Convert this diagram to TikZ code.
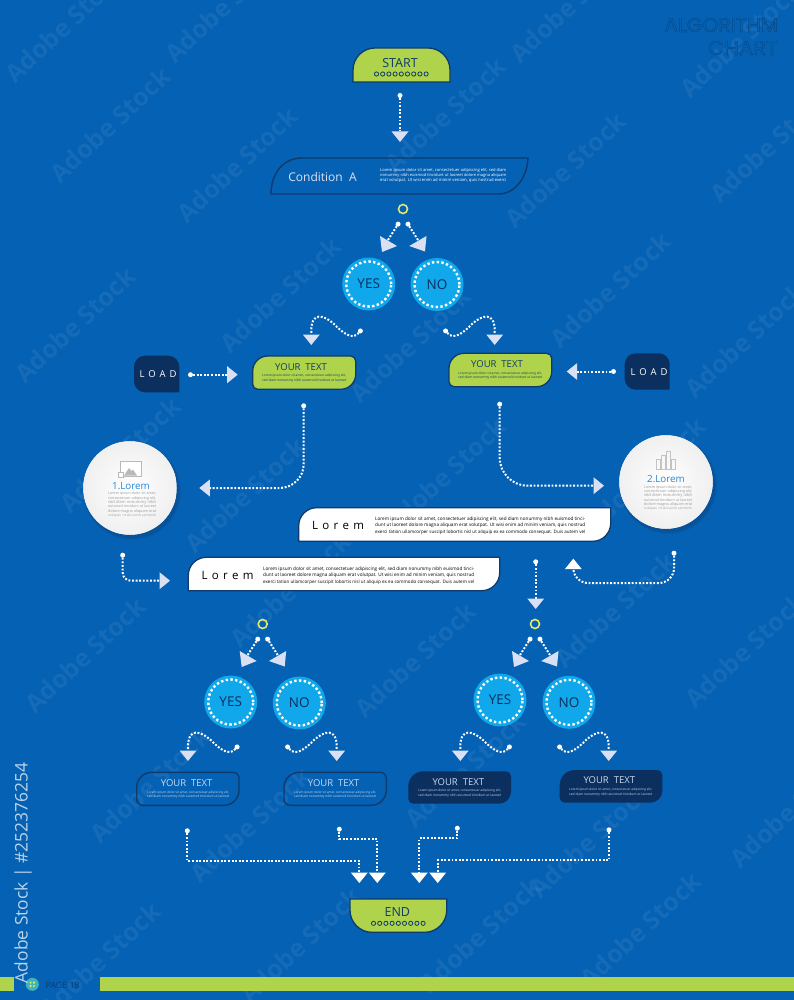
\documentclass[tikz,border=0pt]{standalone}
\usepackage{fontspec}
\usepackage{graphicx}
\setmainfont{Open Sans}
\newfontfamily\titlefont{Poppins}
\usetikzlibrary{arrows.meta,calc}
\definecolor{bgblue}{HTML}{0561B3}
\definecolor{leaf}{HTML}{AFD34A}
\definecolor{navy}{HTML}{0F3A6C}
\definecolor{deep}{HTML}{0B2F5F}
\definecolor{sky}{HTML}{10A7EB}
\definecolor{lav}{HTML}{D9E0F3}
\definecolor{ringy}{HTML}{E4E66E}
\definecolor{pale}{HTML}{C9DAF0}
\definecolor{lblue}{HTML}{2487D8}
\definecolor{gtext}{HTML}{9B9B9B}
\tikzset{
  x=1pt,y=-1pt,
  dots/.style={white,line width=2pt,dash pattern=on 1.9pt off 1.7pt},
  lavconn/.style={dots,{Circle[length=5pt,color=white,line width=0pt]}-{Triangle[length=10.5pt,width=17pt,color=lav,fill=lav,line width=0pt]}},
  whiteconn/.style={dots,{Circle[length=5pt,color=white,line width=0pt]}-{Triangle[length=10.5pt,width=17pt,color=white,fill=white,line width=0pt]}},
  stub/.style={dots,{Circle[length=5pt,color=white,line width=0pt]}-},
  greenbox/.style={fill=leaf,draw=navy,line width=1.3pt},
  hollowbox/.style={draw=navy,line width=1.4pt},
  darkbox/.style={fill=deep},
  whitebox/.style={fill=white,draw=navy,line width=1.3pt},
  lbl/.style={inner sep=0pt,font=\fontsize{10}{12}\selectfont},
  tiny/.style={inner sep=0pt,anchor=west,align=left},
  ringnode/.style={circle,draw=ringy,line width=1.6pt,minimum size=9pt,inner sep=0pt},
  choicenode/.style={circle,fill=sky,minimum size=53pt,inner sep=0pt,text=deep,font=\fontsize{13.5}{15}\selectfont},
  wm/.style={white,opacity=.065,rotate=43,font=\fontsize{25}{27}\selectfont\bfseries},
  whitedisc/.style={circle,minimum size=93.5pt,inner sep=0pt,fill=white!94!black,inner color=white,outer color=white!94!black,shading=radial,shade}
}
\def\rrpath#1#2#3#4#5#6#7#8{({#1+#5},#2) -- ({#3-#6},#2) .. controls ({#3-.45*#6},#2) and (#3,{#2+.45*#6}) .. (#3,{#2+#6}) -- (#3,{#4-#7}) .. controls (#3,{#4-.45*#7}) and ({#3-.45*#7},#4) .. ({#3-#7},#4) -- ({#1+#8},#4) .. controls ({#1+.45*#8},#4) and (#1,{#4-.45*#8}) .. (#1,{#4-#8}) -- (#1,{#2+#5}) .. controls (#1,{#2+.45*#5}) and ({#1+.45*#5},#2) .. ({#1+#5},#2) -- cycle}
\newcommand{\rl}[2]{\resizebox{#1pt}{!}{#2}}
\newcommand{\twolines}[6]{\node[tiny,text=#5,font=\fontsize{1}{4.4}\selectfont] (#1) at (#2,#3) {\rl{#4}{Lorem ipsum dolor sit amet, consectetuer adipiscing elit,}\\\rl{#4}{sed diam nonummy nibh euismod tincidunt ut laoreet}};}
\newcommand{\threelines}[4]{\node[tiny,text=black,font=\fontsize{1}{6.6}\selectfont] (#1) at (#2,#3) {\rl{#4}{Lorem ipsum dolor sit amet, consectetuer adipiscing elit, sed diam nonummy nibh euismod tinci-}\\\rl{#4}{dunt ut laoreet dolore magna aliquam erat volutpat. Ut wisi enim ad minim veniam, quis nostrud}\\\rl{#4}{exerci tation ullamcorper suscipit lobortis nisl ut aliquip ex ea commodo consequat. Duis autem vel}};}
\newcommand{\sixlines}[3]{\node[tiny,text=gtext,font=\fontsize{1}{4.3}\selectfont] (#1) at (#2,#3) {\rl{48}{Lorem ipsum dolor sit amet,}\\\rl{48}{consectetuer adipiscing elit,}\\\rl{48}{sed diam nonummy nibh}\\\rl{48}{euismod tincidunt ut laoreet}\\\rl{48}{dolore magna aliquam erat}\\\rl{48}{volutpat. Ut wisi enim ad minim}};}
\newcommand{\beads}[3]{\foreach \i in {0,...,8} \draw[navy,line width=.8pt] ({#1+\i*6.2},#2) circle (2.1pt);}
\newcommand{\decision}[3]{%
  \node[ringnode] (#1ring) at (#2,#3) {};
  \coordinate (#1ls) at ({#2-3.6},{#3+13});
  \coordinate (#1rs) at ({#2+3.6},{#3+13});
  \coordinate (#1le) at ({#2-15},{#3+31});
  \coordinate (#1re) at ({#2+15},{#3+31});
  \draw[stub] (#1ls) -- (#1le);
  \draw[stub] (#1rs) -- (#1re);
  \fill[lav] ({#2-23},{#3+27}) -- ({#2-6},{#3+37}) -- ({#2-21},{#3+43}) -- cycle;
  \fill[lav] ({#2+23.5},{#3+27}) -- ({#2+6.2},{#3+37}) -- ({#2+22},{#3+42.5}) -- cycle;}
\newcommand{\choice}[4]{\node[choicenode] (#1) at (#2,#3) {#4};
  \draw[white,line width=2.4pt,dash pattern=on 2.4pt off 2.35pt] (#1.center) circle (22.5pt);}
\newcommand{\wave}[4]{\coordinate (#1s) at (#2,#3);
  \coordinate (#1e) at ({#2+#4*50.7},{#3+16});
  \draw[lavconn] (#1s) .. controls ({#2+#4*10},{#3+12}) and ({#2+#4*20},{#3+3}) .. ({#2+#4*28},{#3-5}) .. controls ({#2+#4*38},{#3-14}) and ({#2+#4*50.7},{#3-18}) .. ({#2+#4*50.7},{#3+2}) -- (#1e);}
\begin{document}
\begin{tikzpicture}
\useasboundingbox (0,0) rectangle (794,1000);
\fill[bgblue] (0,0) rectangle (794,1000);
% watermark
\foreach \wx/\wy in {65/25,110/125,237/165,445/115,565/170,770/145,75/325,280/295,410/345,610/290,745/340,120/455,245/495,445/475,645/475,85/655,290/590,415/660,615/610,745/650,150/785,250/825,465/770,590/840,790/810,100/960,300/945,480/935,640/930,225/5,570/5,740/40}
  \node[wm] at (\wx,\wy) {Adobe Stock};

% title
\node[inner sep=0pt,anchor=west,text=bgblue] (titlea) at (664,25) {\resizebox{114pt}{14pt}{\titlefont\fontsize{19}{20}\selectfont\special{pdf:code q 2 Tr 0.16 w 0.05 0.2 0.38 RG 0.02 0.38 0.7 rg}ALGORITHM\special{pdf:code Q}}};
\node[inner sep=0pt,anchor=east,text=bgblue] (titleb) at (778,48) {\resizebox{70pt}{14pt}{\titlefont\fontsize{19}{20}\selectfont\special{pdf:code q 2 Tr 0.16 w 0.05 0.2 0.38 RG 0.02 0.38 0.7 rg}CHART\special{pdf:code Q}}};

% start
\draw[greenbox] \rrpath{353}{48}{450}{82}{22}{22}{0}{0};
\node[lbl,text=navy,font=\fontsize{12.5}{14}\selectfont] (start) at (400,63.5) {START};
\beads{376.5}{74}{}
\coordinate (s1) at (400,93);
\coordinate (t1) at (400,142);
\draw[lavconn] (s1) -- (t1);

% condition A
\draw[hollowbox] (271,194) .. controls (271,175) and (282,158) .. (302,158) -- (528,158) .. controls (527,178) and (515,194) .. (498,194) -- cycle;
\node[lbl,text=lav,font=\fontsize{12}{14}\selectfont] (cond) at (322.5,177) {Condition\ \ A};
\node[tiny,text=white,font=\fontsize{1}{5.4}\selectfont] (condtext) at (380,175.5) {\rl{126}{Lorem ipsum dolor sit amet, consectetuer adipiscing elit, sed diam}\\\rl{126}{nonummy nibh euismod tincidunt ut laoreet dolore magna aliquam}\\\rl{126}{erat volutpat. Ut wisi enim ad minim veniam, quis nostrud exerci}};

% first decision
\decision{da}{403}{209}
\choice{yesa}{368.7}{284}{YES}
\choice{noa}{437}{284.5}{NO}
\wave{wa}{362}{329}{-1}
\wave{wb}{444}{329}{1}

% green boxes
\draw[greenbox] \rrpath{252.7}{356}{355.7}{389.3}{15}{5}{15}{5};
\node[lbl,text=navy,font=\fontsize{9.5}{11}\selectfont] (ya) at (301,366.7) {YOUR\ \ TEXT};
\twolines{yat}{262}{378.2}{84}{navy}{}
\draw[greenbox] \rrpath{449}{353.3}{551.7}{386.7}{15}{5}{15}{5};
\node[lbl,text=navy,font=\fontsize{9.5}{11}\selectfont] (yb) at (497,364) {YOUR\ \ TEXT};
\twolines{ybt}{458}{375.8}{84}{navy}{}

% load boxes
\fill[darkbox] \rrpath{134}{355.7}{179.3}{392.3}{11}{11}{0}{11};
\node[lbl,text=white,font=\fontsize{9.5}{11}\selectfont] (loada) at (158,374) {\makebox[37pt][s]{L O A D}};
\fill[darkbox] \rrpath{624.7}{353.3}{669.7}{389.7}{11}{11}{0}{11};
\node[lbl,text=white,font=\fontsize{9.5}{11}\selectfont] (loadb) at (649,372) {\makebox[37pt][s]{L O A D}};
\coordinate (la1) at (188,374.7);
\coordinate (la2) at (237.7,374.7);
\draw[lavconn] (la1) -- (la2);
\coordinate (lb1) at (616,371.5);
\coordinate (lb2) at (566.7,371.5);
\draw[lavconn] (lb1) -- (lb2);

% routes to circles
\coordinate (ra1) at (303.7,403.3);
\coordinate (ra2) at (199.3,488);
\draw[lavconn,rounded corners=24pt] (ra1) |- (ra2);
\coordinate (rb1) at (499.7,401.7);
\coordinate (rb2) at (604,485.7);
\draw[lavconn,rounded corners=28pt] (rb1) |- (rb2);

% white circles
\foreach \k/\r in {1/49,2/48,3/47.5}{
  \fill[navy,opacity=.12] (132,491) circle (\r pt);
  \fill[navy,opacity=.12] (668,485) circle (\r pt);}
\node[whitedisc] (ca) at (130,488) {};
\node[whitedisc] (cb) at (666,482) {};
% picture icon
\draw[gtext!70,line width=.8pt,fill=white] (120,461.7) rectangle (141,476.7);
\fill[gtext!70] (124,475.5) -- (129,468) -- (131.5,471) -- (133,469.5) -- (137,475.5) -- cycle;
\draw[gtext!70,line width=.8pt,fill=white] (118.5,472.7) rectangle (123.5,477.7);
\node[lbl,text=lblue,font=\fontsize{9.8}{11}\selectfont] (ct) at (131,486.3) {1.Lorem};
\sixlines{cat}{108}{504.7}
% bar icon
\foreach \bx/\bt in {656.3/459,661.3/455,666.3/451,671.3/459}
  \draw[gtext!60,line width=.6pt] (\bx,469.5) rectangle ({\bx+3.7},\bt);
\node[lbl,text=lblue,font=\fontsize{9.8}{11}\selectfont] (cu) at (666,478.7) {2.Lorem};
\sixlines{cbt}{644}{498}

% white lorem boxes
\draw[whitebox] \rrpath{298.7}{507.7}{610.7}{541.3}{18}{0}{18}{0};
\node[lbl,text=black] (loa) at (338,525.7) {\makebox[52pt][s]{\fontsize{11.5}{13}\selectfont L o r e m}};
\threelines{lot}{375}{525.7}{210}
\draw[whitebox] \rrpath{188.3}{557.3}{499.7}{590.7}{18}{0}{18}{0};
\node[lbl,text=black] (lob) at (227.7,575) {\makebox[52pt][s]{\fontsize{11.5}{13}\selectfont L o r e m}};
\threelines{lou}{263}{575.4}{211}

% connectors around lorem boxes
\coordinate (la) at (122.7,552.7);
\coordinate (lc) at (170,580.7);
\draw[lavconn,rounded corners=8pt] (la) |- (lc);
\coordinate (da) at (535.7,559.3);
\coordinate (db) at (535.7,609);
\draw[lavconn] (da) -- (db);
\coordinate (ua) at (674,550.7);
\coordinate (ub) at (573.3,558.7);
\coordinate (ubc) at (573.3,583);
\draw[whiteconn,rounded corners=15pt] (ua) |- (ubc) -- (ub);

% lower decisions
\decision{db}{262.7}{624}
\decision{dc}{535}{624}
\choice{yesb}{230.7}{702}{YES}
\choice{nob}{299.3}{703}{NO}
\choice{yesc}{500}{700}{YES}
\choice{noc}{569}{702.3}{NO}
\wave{wc}{238.7}{745}{-1}
\wave{wd}{286}{745}{1}
\wave{we}{511}{745}{-1}
\wave{wf}{558}{745}{1}

% lower boxes
\draw[hollowbox] \rrpath{136.7}{772.3}{239}{805.3}{15}{6}{15}{6};
\node[lbl,text=pale,font=\fontsize{9.5}{11}\selectfont] (ba) at (186.7,783) {YOUR\ \ TEXT};
\twolines{bat}{147}{794.8}{82}{pale}{}
\draw[hollowbox] \rrpath{284}{772.3}{386.3}{805.3}{15}{6}{15}{6};
\node[lbl,text=pale,font=\fontsize{9.5}{11}\selectfont] (bb) at (333.7,783) {YOUR\ \ TEXT};
\twolines{bbt}{294}{794.8}{82}{pale}{}
\fill[darkbox] \rrpath{408.3}{771.3}{511}{803.7}{15}{5}{12}{5};
\node[lbl,text=pale,font=\fontsize{9.5}{11}\selectfont] (bc) at (458.3,781.7) {YOUR\ \ TEXT};
\twolines{bct}{418}{793.2}{83}{pale}{}
\fill[darkbox] \rrpath{559.7}{770}{662.3}{802.7}{15}{5}{12}{5};
\node[lbl,text=pale,font=\fontsize{9.5}{11}\selectfont] (bd) at (609.3,780.3) {YOUR\ \ TEXT};
\twolines{bdt}{569}{792}{83}{pale}{}

% connectors to end
\coordinate (ea) at (187.3,828.3);
\coordinate (eac) at (359.3,861);
\coordinate (eat) at (359.3,883);
\draw[whiteconn] (ea) |- (eac) -- (eat);
\coordinate (eb) at (339.3,826.7);
\coordinate (ebc) at (377.3,839);
\coordinate (ebt) at (377.3,883);
\draw[whiteconn] (eb) |- (ebc) -- (ebt);
\coordinate (ec) at (457.3,825.7);
\coordinate (ecc) at (419.3,838.3);
\coordinate (ect) at (419.3,883);
\draw[whiteconn] (ec) |- (ecc) -- (ect);
\coordinate (ed) at (609,827.3);
\coordinate (edc) at (437.7,860.3);
\coordinate (edt) at (437.7,883);
\draw[whiteconn] (ed) |- (edc) -- (edt);

% end
\draw[greenbox] \rrpath{350}{899}{446.7}{932.3}{0}{0}{22}{22};
\node[lbl,text=navy,font=\fontsize{12.5}{14}\selectfont] (endn) at (397.3,912.3) {END};
\beads{373.5}{923.3}{}

% footer
\fill[leaf] (0,977.3) rectangle (14.3,990.7);
\fill[leaf] (100,977.3) rectangle (794,990.7);
\node[circle,fill=sky!70!leaf,minimum size=13pt,inner sep=0pt] (pg) at (32.3,984.3) {};
\foreach \px/\py in {-1.7/-1.7,1.7/-1.7,-1.7/1.7,1.7/1.7}
  \fill[ringy] ($(pg)+(\px,\py)$) circle (1.2pt);
\node[inner sep=0pt,anchor=west,text=navy,font=\fontsize{8.8}{10}\selectfont] (pgt) at (45.5,985) {PAGE 18};
\node[inner sep=0pt,rotate=90,text=white,opacity=.72] (stock) at (23,873) {\resizebox{220pt}{!}{Adobe Stock | \#252376254}};
\end{tikzpicture}
\end{document}
